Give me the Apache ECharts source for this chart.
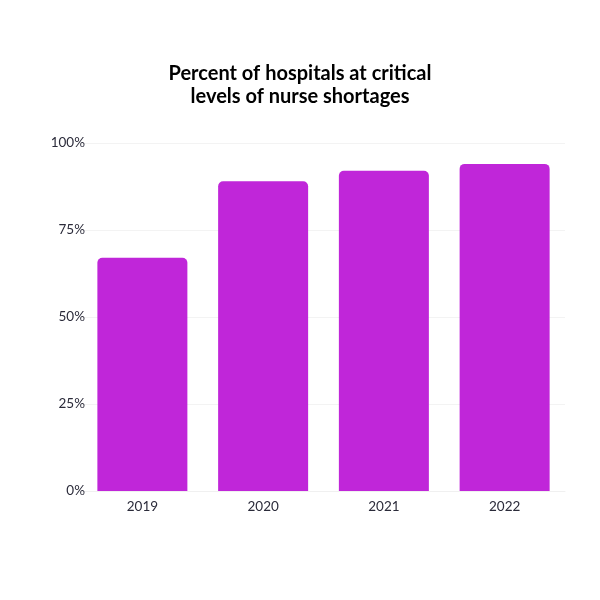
<!DOCTYPE html>
<html><head><meta charset="utf-8">
<script src="https://cdn.jsdelivr.net/npm/echarts@6/dist/echarts.min.js"></script>
<style>html,body{margin:0;padding:0;background:#fff}#c{width:600px;height:600px}</style>
</head><body><div id="c"></div>
<script>
const categories = ['2019', '2020', '2021', '2022'];
const values = [67, 89, 92, 94];
const yTicks = [0, 25, 50, 75, 100];

const chart = echarts.init(document.getElementById('c'));
chart.setOption({
  animation: false,
  title: {
    text: 'Percent of hospitals at critical\nlevels of nurse shortages',
    left: 'center', top: 57,
    textStyle: { fontFamily: 'Lato', fontWeight: 'bold', fontSize: 20, lineHeight: 23, color: '#000' }
  },
  grid: { left: 82, right: 35, top: 143, bottom: 109 },
  xAxis: {
    type: 'category', data: categories,
    axisTick: { show: false },
    axisLine: { show: true, lineStyle: { color: '#f0f0f0' } },
    axisLabel: { fontFamily: 'Lato', fontSize: 13.5, color: '#2b2b3a', margin: 9 }
  },
  yAxis: {
    type: 'value', min: 0, max: 100, interval: 25,
    axisLabel: { fontFamily: 'Lato', fontSize: 13.5, color: '#2b2b3a', margin: -3,
      formatter: v => yTicks.includes(v) ? v + '%' : '' },
    splitLine: { lineStyle: { color: '#f3f3f3' } },
    axisLine: { show: false }, axisTick: { show: false }
  },
  series: [{
    type: 'bar', data: values, barWidth: 90,
    itemStyle: { color: '#c026d9', borderRadius: [5, 5, 0, 0] }
  }]
});
</script></body></html>
